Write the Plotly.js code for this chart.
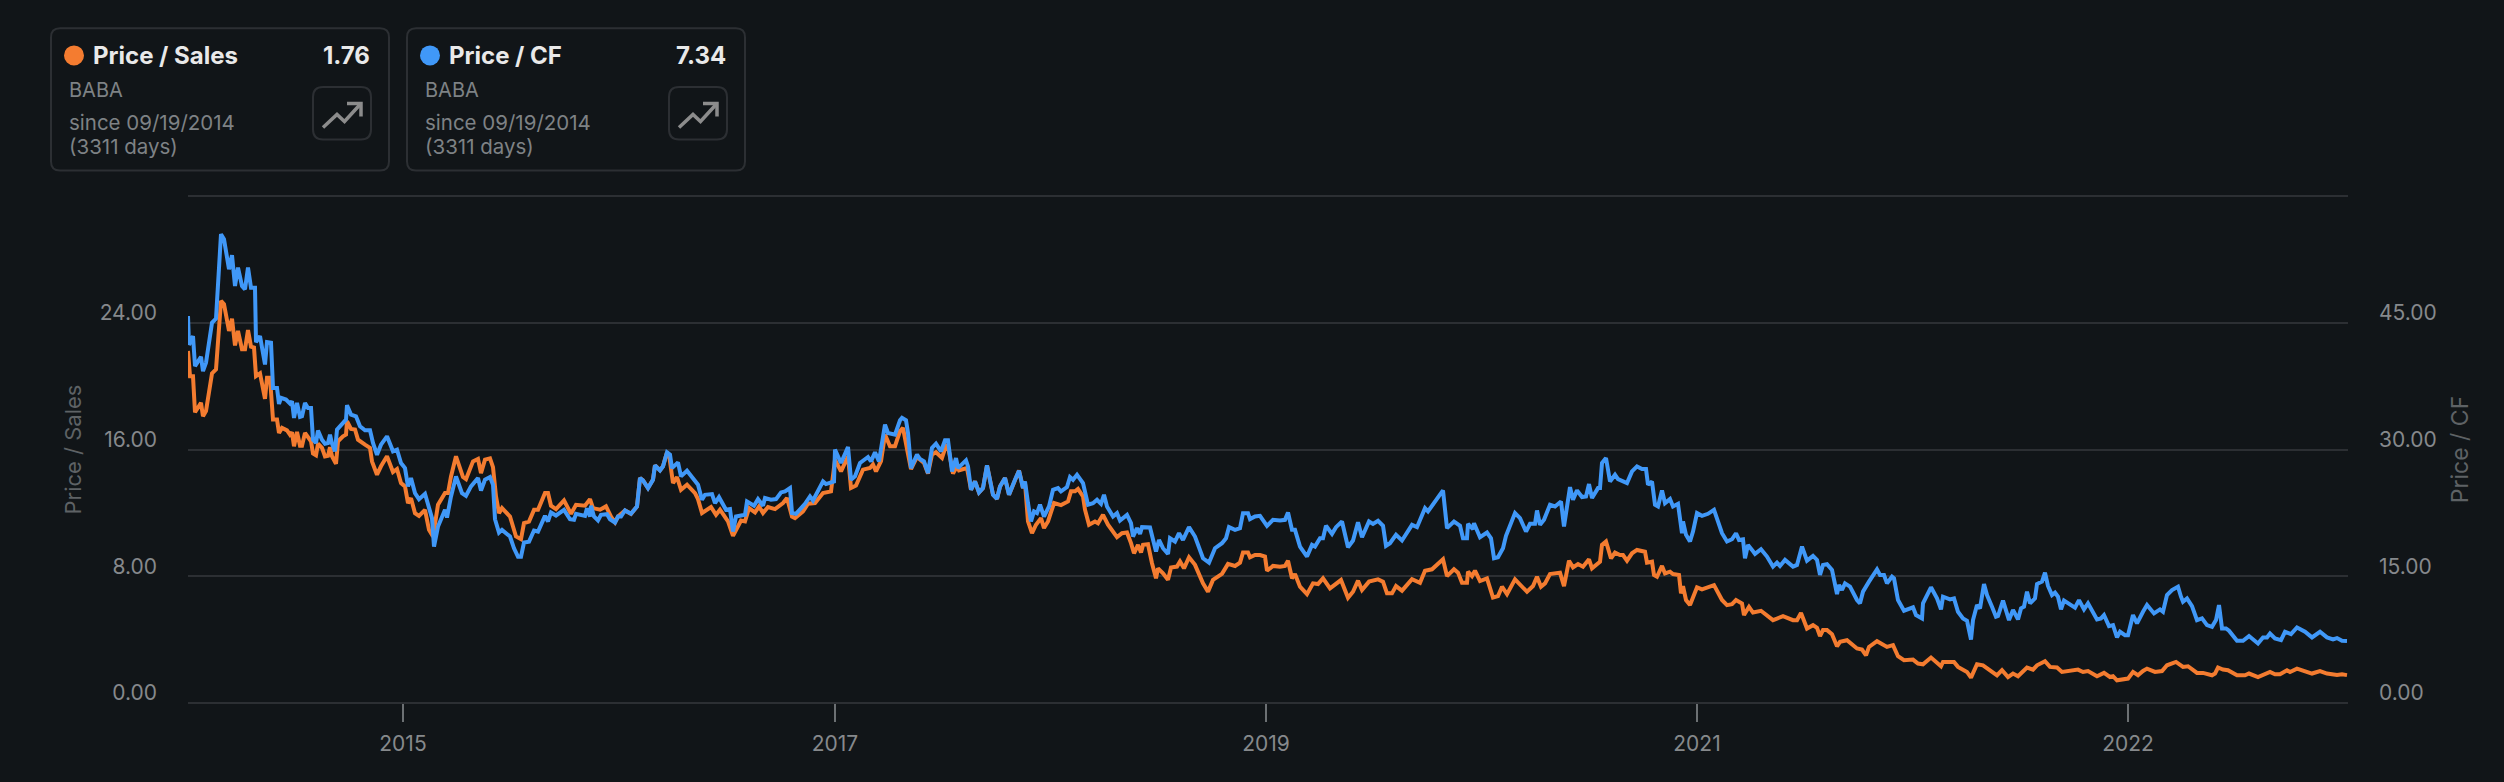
<!DOCTYPE html>
<html>
<head>
<meta charset="utf-8">
<script src="https://cdn.plot.ly/plotly-3.0.1.min.js"></script>
<style>html,body{margin:0;padding:0;background:#111518;}#chart{width:2504px;height:782px;}</style>
</head>
<body>
<div id="chart"></div>
<script>
// Trading-session number, counted from the start of the series
const salesSessions = [
0,2,5,7,13,15,18,24,28,33,
36,41,44,47,50,54,57,60,63,66,
68,72,77,79,82,85,89,91,94,99,
102,104,106,109,112,114,117,121,123,125,
128,130,134,137,140,142,144,148,150,155,
158,159,163,167,170,177,182,184,189,193,
199,205,209,213,217,220,223,227,231,237,
241,245,250,257,260,263,268,275,278,285,
290,293,297,302,305,308,311,314,322,328,
333,336,341,346,350,357,
360,363,368,376,383,388,397,402,405,412,
418,423,427,430,437,443,449,452,455,460,
465,467,472,475,479,481,485,489,493,499,
507,510,514,523,528,532,540,545,553,557,
561,567,571,575,580,587,595,599,604,607,
615,620,627,635,643,647,653,660,663,668,
675,682,685,688,693,697,702,707,
712,715,717,719,723,729,736,740,744,748,
754,758,760,765,769,771,779,783,787,791,
795,799,805,809,812,817,821,827,831,835,
837,840,844,848,853,856,860,866,873,880,
883,887,890,895,897,901,907,910,915,920,
925,929,934,939,943,946,950,953,955,960,
964,968,970,975,980,983,989,992,996,1001,
1007,1015,1020,1025,1034,1040,1047,1052,1055,1060,
1062,1067,1072,1077,1079,1085,1092,1097,1100,1104,
1107,1112,1119,1125,1130,1135,1142,1153,1160,1165,
1170,1174,1181,1190,1195,1199,1204,1208,1214,1224,
1232,1237,1244,1255,1259,1266,1270,1274,1279,1280,
1284,1287,1292,1299,1305,1310,1314,1319,1327,1334,
1339,1345,1349,1353,1357,1362,1372,1376,1381,1385,
1390,1395,1401,1404,1410,
1412,1414,1418,1423,1427,1432,1435,1439,1444,1449,
1457,1459,1464,1466,1469,1474,1477,1482,1485,1491,
1493,1495,1498,1502,1505,1509,1514,1520,1526,1534,
1539,1544,1548,1554,1556,1561,1565,1573,1579,1585,
1589,1595,1605,1609,1613,1619,1625,1629,1632,1635,
1639,1644,1649,1652,1659,1669,1674,1678,1681,1689,
1699,1705,1710,1716,1725,1730,1735,1743,1753,1755,
1762,1766,1770,1779,1783,1789,1795,1802,1809,1814,
1820,1825,1830,1839,1845,1849,1857,1862,1869,1874,
1882,1890,1895,1900,1909,1916,1922,1925,1929,1940,
1945,1950,1955,1959,1967,1974,1979,1988,1995,2000,
2009,2015,2024,2027,2030,2035,2040,2049,2057,2061,
2070,2077,2082,2087,2092,2099,2102,2109,2124,2132,
2139,2149,2154,2159];
const salesValues = [
22.22,20.63,20.63,18.35,18.94,18.10,18.42,20.80,21.06,25.38,
25.17,23.48,24.26,22.57,23.48,22.32,22.32,23.54,22.49,22.43,
20.63,20.80,19.20,20.53,20.53,17.89,17.89,17.05,17.36,17.21,
16.94,17.09,16.20,17.11,16.24,16.24,17.05,16.73,16.52,15.74,
15.63,16.37,16.10,15.57,15.61,16.14,15.57,15.10,16.52,16.83,
16.94,17.78,17.30,17.26,16.62,16.31,16.10,15.25,14.41,14.94,
15.57,14.58,14.77,13.88,13.67,12.61,12.93,11.98,11.81,12.19,
10.93,10.51,12.51,13.25,13.25,14.30,15.57,14.26,14.13,15.25,
15.40,14.51,15.36,15.44,14.89,13.04,11.98,12.30,11.77,10.51,
10.34,11.35,11.45,12.19,12.19,13.25,
13.25,12.45,12.24,12.79,11.94,12.51,12.45,12.87,12.30,12.20,
12.41,11.77,11.40,11.77,12.15,11.94,12.41,14.20,14.05,13.57,
14.10,15.00,14.69,14.94,15.83,15.68,13.88,14.26,13.46,13.78,
13.25,12.87,11.99,12.37,11.88,12.20,11.46,10.55,11.52,11.46,
12.30,12.03,12.41,11.99,12.37,12.24,12.62,12.94,11.77,11.67,
12.09,12.58,12.62,13.25,13.36,15.36,14.62,15.57,13.57,13.72,
14.73,14.83,15.05,14.62,15.26,16.94,16.21,16.21,
17.16,17.37,16.84,16.04,14.77,15.53,15.15,14.48,15.68,15.83,
15.47,16.25,16.21,14.48,14.94,14.69,14.83,13.46,13.99,13.29,
13.57,15.00,13.15,12.89,13.67,14.20,13.15,14.10,14.67,13.57,
13.88,11.46,10.72,11.25,11.67,11.04,11.46,12.62,12.49,12.72,
13.36,13.36,13.51,13.04,12.20,11.25,11.46,11.35,11.88,11.25,
10.83,10.47,10.72,10.76,10.09,9.45,9.98,9.50,9.98,10.02,
8.82,7.87,8.50,8.19,7.77,8.55,8.61,8.93,8.50,9.20,
8.72,7.55,7.03,7.77,8.15,8.78,8.65,8.86,9.50,9.50,
9.20,9.34,9.34,9.24,8.35,8.65,8.60,8.65,8.98,7.87,
8.14,7.34,6.87,7.55,7.51,7.87,7.23,7.76,6.64,7.02,
7.72,7.13,7.66,7.80,7.66,6.92,6.92,7.38,7.09,7.82,
7.59,8.35,8.44,9.07,8.01,8.44,8.23,7.59,7.59,8.29,
8.01,8.35,7.70,7.87,6.66,6.75,7.34,6.87,7.80,7.38,
7.02,7.38,7.97,7.34,7.55,8.14,8.23,7.38,8.98,8.56,
8.77,8.60,9.07,8.50,8.82,
8.92,9.98,10.19,9.13,9.49,9.34,9.34,8.98,9.45,9.66,
9.55,8.86,8.92,8.08,7.97,8.65,8.18,8.29,8.14,8.08,
6.92,7.38,6.50,6.18,6.60,7.30,7.17,7.30,7.44,6.50,
6.18,6.24,6.50,6.28,5.55,6.07,5.71,5.82,5.55,5.23,
5.33,5.48,5.23,5.23,5.69,4.70,4.91,4.74,4.22,4.60,
4.60,4.34,3.58,3.86,3.96,3.44,3.37,3.01,3.54,3.90,
3.54,3.65,2.95,2.70,2.74,2.49,2.44,2.87,2.32,2.59,
2.59,2.59,2.28,1.96,1.60,2.45,2.38,2.07,1.75,2.07,
1.64,1.86,1.69,2.24,2.11,2.38,2.64,2.28,2.24,1.96,
2.02,2.11,1.96,2.02,1.69,1.90,1.64,1.69,1.43,1.54,
1.96,1.75,2.02,2.17,1.96,2.02,2.38,2.59,2.28,2.32,
1.90,1.90,1.75,1.86,2.24,2.11,2.07,1.75,1.75,1.86,
1.64,1.81,1.96,1.81,1.81,2.07,1.96,2.17,1.86,2.02,
1.86,1.77,1.81,1.76];
const cfSessions = [
0,1,5,7,13,15,18,24,28,33,
36,41,44,47,50,54,57,60,63,67,
68,72,77,79,83,85,89,91,93,98,
102,104,106,109,112,114,117,120,123,125,
128,130,134,137,140,142,144,147,149,155,
158,159,163,168,172,177,182,185,189,193,
199,205,209,213,217,220,223,227,231,237,
241,244,246,250,257,259,263,268,274,278,
283,290,293,297,302,305,307,311,314,322,
326,330,333,336,341,346,350,357,
360,363,368,376,382,386,388,397,399,402,
403,406,410,413,419,422,427,430,433,437,
443,449,452,455,460,465,467,472,475,479,
482,484,490,493,499,505,510,514,517,524,
527,531,535,538,542,545,548,557,559,566,
570,575,577,583,588,593,597,602,604,608,
617,622,625,630,635,638,646,647,653,660,
663,667,672,680,683,687,691,697,700,707,
712,714,718,720,723,729,732,736,740,744,
748,753,757,760,764,768,770,778,780,783,
787,791,795,799,805,809,812,817,821,827,
831,835,837,840,843,846,849,852,856,861,
865,870,873,879,882,885,889,895,900,905,
909,913,916,919,925,929,932,939,943,945,
949,952,954,962,968,971,975,980,982,987,
991,995,1001,1007,1015,1021,1027,1034,1038,1041,
1047,1052,1055,1060,
1062,1067,1072,1079,1085,1092,1097,1100,1104,1107,
1112,1119,1124,1127,1132,1135,1138,1144,1148,1154,
1160,1165,1170,1174,1181,1185,1190,1195,1198,1202,
1208,1214,1224,1229,1237,1240,1245,1255,1259,1266,
1272,1275,1279,1280,1285,1286,1292,1299,1303,1306,
1310,1315,1318,1322,1327,1332,1338,1342,1347,1349,
1352,1356,1362,1367,1373,1376,1382,1385,1389,1394,
1398,1401,1404,1410,
1412,1414,1418,1422,1427,1430,1435,1439,1444,1449,
1454,1458,1460,1464,1467,1470,1474,1477,1482,1485,
1490,1494,1495,1498,1502,1505,1509,1514,1520,1526,
1534,1539,1544,1548,1551,1555,1557,1560,1564,1567,
1573,1579,1585,1589,1592,1597,1605,1609,1614,1619,
1625,1629,1632,1635,1639,1644,1649,1651,1654,1657,
1662,1669,1672,1675,1681,1689,1692,1696,1699,1704,
1706,1710,1716,1725,1728,1734,1735,1743,1749,1753,
1755,
1762,1766,1770,1775,1779,1783,1785,1789,1792,1796,
1799,1804,1808,1810,1815,1821,1825,1830,1833,1836,
1839,1842,1847,1849,1854,1857,1860,1864,1867,1870,
1873,1876,1881,1887,1891,1896,1900,1905,1909,1913,
1916,1921,1925,1929,1932,1937,1940,1945,1949,1955,
1959,1966,1972,1975,1979,1984,1990,1993,1995,1999,
2004,2009,2014,2019,2024,2028,2031,2034,2038,2041,
2049,2055,2061,2070,2075,2079,2082,2087,2093,2097,
2103,2109,2117,2124,2132,2139,2145,2149,2154,2159];
const cfValues = [
45.79,42.39,43.42,39.86,40.97,39.27,40.26,45.00,45.48,55.48,
54.89,51.33,52.99,49.35,51.53,49.35,48.96,51.53,49.15,49.15,
42.71,43.42,40.06,42.71,42.63,37.29,37.29,35.39,36.11,35.91,
35.43,35.71,33.73,35.51,33.85,33.93,35.51,34.92,34.92,31.16,
30.77,32.23,31.16,30.69,30.77,31.76,30.69,29.78,32.35,33.14,
33.54,35.24,34.13,33.93,32.74,32.27,32.27,30.77,29.38,30.57,
31.56,29.78,29.98,28.40,27.80,25.63,26.62,24.84,24.12,24.76,
22.86,21.87,18.51,20.88,22.86,21.95,24.44,26.81,24.84,24.52,
25.63,26.62,25.15,26.42,26.74,25.83,21.75,20.17,20.49,19.70,
18.31,17.32,17.32,18.99,19.10,20.41,20.29,22.15,
21.48,22.55,22.19,22.86,21.75,21.68,22.39,22.15,23.06,22.07,
23.34,22.07,21.60,22.27,22.35,21.75,21.36,22.07,22.07,22.78,
22.39,23.26,26.62,26.34,25.43,26.42,28.12,27.53,28.00,29.66,
29.39,27.80,28.48,26.82,27.49,26.62,25.83,24.05,24.64,24.72,
23.65,24.36,23.57,22.86,22.94,20.29,22.07,22.27,23.85,23.34,
24.13,23.34,24.25,24.05,24.13,24.92,25.04,25.43,22.47,22.39,
23.57,24.44,23.97,25.04,26.22,25.91,26.22,29.98,28.40,30.30,
26.42,26.82,28.40,29.11,28.60,29.66,28.60,32.94,31.96,31.76,
33.46,33.74,33.46,31.96,27.80,29.39,28.87,28.60,27.21,30.18,
30.69,29.78,31.09,31.09,27.41,28.99,27.80,28.71,28.00,25.23,
26.22,24.92,25.43,28.12,24.64,24.17,25.63,26.62,24.64,26.42,
27.49,25.43,26.22,23.65,21.48,22.66,22.47,23.46,22.07,23.26,
25.23,25.43,25.04,25.55,26.74,26.42,27.01,26.03,23.46,23.65,
24.05,23.57,24.64,23.26,22.07,22.47,21.60,22.27,21.28,19.70,
20.69,20.01,20.81,20.77,17.92,19.30,18.32,17.64,19.50,19.11,
20.09,19.30,20.81,19.70,17.13,16.61,18.32,18.91,19.50,20.81,
20.49,20.69,22.47,22.47,
21.76,22.07,22.15,20.97,21.68,21.60,21.68,22.55,20.49,20.49,
18.51,17.33,18.71,18.51,19.50,19.50,20.97,20.02,20.81,21.48,
18.43,19.23,21.40,19.62,21.48,21.20,21.56,20.97,18.59,18.91,
19.90,19.23,21.08,20.81,23.06,22.67,23.57,25.16,20.69,21.48,
20.97,19.50,19.50,21.20,20.57,21.28,19.62,20.17,19.50,17.13,
17.25,18.32,19.78,20.89,22.47,21.87,20.29,21.20,21.20,22.78,
21.08,21.68,23.46,23.26,23.85,20.89,25.55,24.05,25.16,24.37,
24.45,25.91,24.25,25.43,
25.43,28.40,28.99,26.22,27.01,26.50,26.22,26.03,27.41,28.00,
27.69,27.69,25.83,26.22,23.46,23.26,25.16,23.65,24.13,23.26,
23.57,20.09,21.48,19.90,19.11,20.29,22.47,22.15,22.39,22.86,
20.09,19.11,19.38,20.09,19.30,19.38,17.13,18.71,18.12,17.64,
18.20,17.33,16.14,16.62,16.22,16.93,16.14,16.34,18.51,16.85,
17.41,16.93,15.15,16.34,16.42,15.75,12.90,13.97,13.37,14.16,
13.77,12.19,11.79,13.18,14.36,15.82,15.15,15.15,14.16,14.95,
14.76,12.19,10.92,11.32,10.41,10.01,11.79,13.69,12.38,11.08,
12.58,
12.26,12.38,10.80,10.01,9.73,7.52,9.81,11.59,11.20,14.08,
12.78,11.39,10.21,10.29,12.11,9.81,11.00,9.89,11.20,11.39,
13.17,11.79,12.38,14.08,14.36,15.43,13.85,12.78,13.06,12.58,
11.08,12.11,11.79,11.28,12.18,11.08,11.79,10.60,9.89,10.01,
10.41,9.10,9.22,7.76,8.43,8.03,8.03,10.41,9.42,10.80,
11.59,10.60,11.08,10.80,12.78,13.37,13.77,12.58,11.99,12.38,
11.47,9.81,10.01,9.22,9.02,9.81,11.59,8.82,8.82,8.55,
7.36,7.36,7.92,7.04,7.76,7.76,8.23,7.64,7.44,8.43,
8.15,8.94,8.43,7.76,8.43,7.76,7.52,7.68,7.36,7.34];

const xTickSessions = [215, 647, 1078, 1509, 1940];
const xTickLabels = ['2015', '2017', '2019', '2021', '2022'];
const salesTicks = [0, 8, 16, 24, 32];
const salesTickLabels = ['0.00', '8.00', '16.00', '24.00', ''];
const cfTicks = [0, 15, 30, 45, 60];
const cfTickLabels = ['0.00', '15.00', '30.00', '45.00', ''];

const cardTitles = ['Price / Sales', 'Price / CF'];
const cardLatest = ['1.76', '7.34'];
const cardTicker = 'BABA';
const cardSince = 'since 09/19/2014';
const cardSpan = '(3311 days)';

const ORANGE = '#F47C30', BLUE = '#4098F8', BG = '#111518', GRID = '#2C2F33';
const FONT = 'Inter, "Noto Sans", sans-serif';
const W = 2504, H = 782, L = 188, R = 2348, T = 196.4, B = 702.7;
const fx = v => (v - L) / (R - L);
const fy = v => (B - v) / (B - T);

const shapes = [], annotations = [];
function pathOf(cmds) {
  return cmds.map(c => c[0] + c.slice(1).map((v, i) => i % 2 === 0 ? fx(v) : fy(v)).join(',')).join(' ');
}
function roundRect(x0, y0, x1, y1, r) {
  return pathOf([['M', x0 + r, y0], ['L', x1 - r, y0], ['Q', x1, y0, x1, y0 + r], ['L', x1, y1 - r], ['Q', x1, y1, x1 - r, y1],
    ['L', x0 + r, y1], ['Q', x0, y1, x0, y1 - r], ['L', x0, y0 + r], ['Q', x0, y0, x0 + r, y0]]) + ' Z';
}
function addText(text, x, y, size, color, anchor, weight) {
  annotations.push({ text, xref: 'paper', yref: 'paper', x: fx(x), y: fy(y), xanchor: anchor, yanchor: 'middle',
    showarrow: false, borderpad: 0, font: { family: FONT, size, color, weight: weight || 400 } });
}
// The plot's top and bottom rules sit on the range edges, where the axis draws no gridline
[0, 1].forEach(edge => shapes.push({ type: 'line', layer: 'below', xref: 'paper', yref: 'paper', x0: 0, x1: 1, y0: edge, y1: edge, line: { color: GRID, width: 2 } }));
cardTitles.forEach((title, i) => {
  const dx = i * 356, color = i === 0 ? ORANGE : BLUE;
  shapes.push({ type: 'path', xref: 'paper', yref: 'paper', path: roundRect(51 + dx, 29, 389 + dx, 171, 9), line: { color: GRID, width: 2 } });
  shapes.push({ type: 'circle', xref: 'paper', yref: 'paper', x0: fx(64 + dx), x1: fx(84 + dx), y0: fy(46), y1: fy(66), fillcolor: color, line: { width: 0 } });
  addText(title, 92 + dx, 56, 24, '#E9E9E9', 'left', 700);
  addText(cardLatest[i], 371 + dx, 56, 24, '#E9E9E9', 'right', 700);
  addText(cardTicker, 68 + dx, 91, 20, '#7E8285', 'left');
  addText(cardSince, 68 + dx, 123, 20.5, '#7E8285', 'left');
  addText(cardSpan, 68 + dx, 147, 20.5, '#7E8285', 'left');
  shapes.push({ type: 'path', xref: 'paper', yref: 'paper', path: roundRect(313 + dx, 87.5, 371 + dx, 140, 10), line: { color: GRID, width: 2 } });
  shapes.push({ type: 'path', xref: 'paper', yref: 'paper',
    path: pathOf([['M', 323 + dx, 128], ['L', 337 + dx, 115], ['L', 344.5 + dx, 122], ['L', 360.5 + dx, 104.5]]), line: { color: '#8C8C8C', width: 3.5 } });
  shapes.push({ type: 'path', xref: 'paper', yref: 'paper',
    path: pathOf([['M', 347 + dx, 104], ['L', 361 + dx, 104], ['L', 361 + dx, 117]]), line: { color: '#8C8C8C', width: 3.5 } });
});

const axisFont = { family: FONT, size: 21, color: '#86898C' };
const titleFont = { family: FONT, size: 22, color: '#5E6265' };

const data = [
  { x: salesSessions, y: salesValues, name: 'Price / Sales', type: 'scatter', mode: 'lines', yaxis: 'y',
    line: { color: ORANGE, width: 4 }, hoverinfo: 'skip' },
  { x: cfSessions, y: cfValues, name: 'Price / CF', type: 'scatter', mode: 'lines', yaxis: 'y2',
    line: { color: BLUE, width: 4 }, hoverinfo: 'skip' }
];
const layout = {
  width: W, height: H, paper_bgcolor: BG, plot_bgcolor: BG, showlegend: false,
  font: { family: FONT },
  margin: { l: L, r: W - R, t: T, b: H - B, pad: 0, autoexpand: false },
  xaxis: { range: [0, 2160], tickmode: 'array', tickvals: xTickSessions, ticktext: xTickLabels, ticks: 'outside', ticklen: 18, tickwidth: 1.5,
    tickcolor: '#6C7073', tickfont: axisFont, showgrid: false, zeroline: false, showline: false, ticklabelstandoff: 4 },
  yaxis: { range: [0, 32], tickmode: 'array', tickvals: salesTicks, ticktext: salesTickLabels, gridcolor: GRID, gridwidth: 2, zeroline: false,
    showline: false, ticks: '', tickfont: axisFont, ticklabelstandoff: 30, ticklabelshift: -10,
    title: { text: 'Price / Sales', font: titleFont, standoff: 11 } },
  yaxis2: { range: [0, 60], overlaying: 'y', side: 'right', tickmode: 'array', tickvals: cfTicks, ticktext: cfTickLabels, showgrid: false, zeroline: false,
    showline: false, ticks: '', tickfont: axisFont, ticklabelstandoff: 30, ticklabelshift: -10,
    title: { text: 'Price / CF', font: { family: FONT, size: 23, color: '#5E6265' }, standoff: 16 } },
  shapes, annotations
};
Plotly.newPlot('chart', data, layout, { displayModeBar: false, responsive: false });
</script>
</body>
</html>
